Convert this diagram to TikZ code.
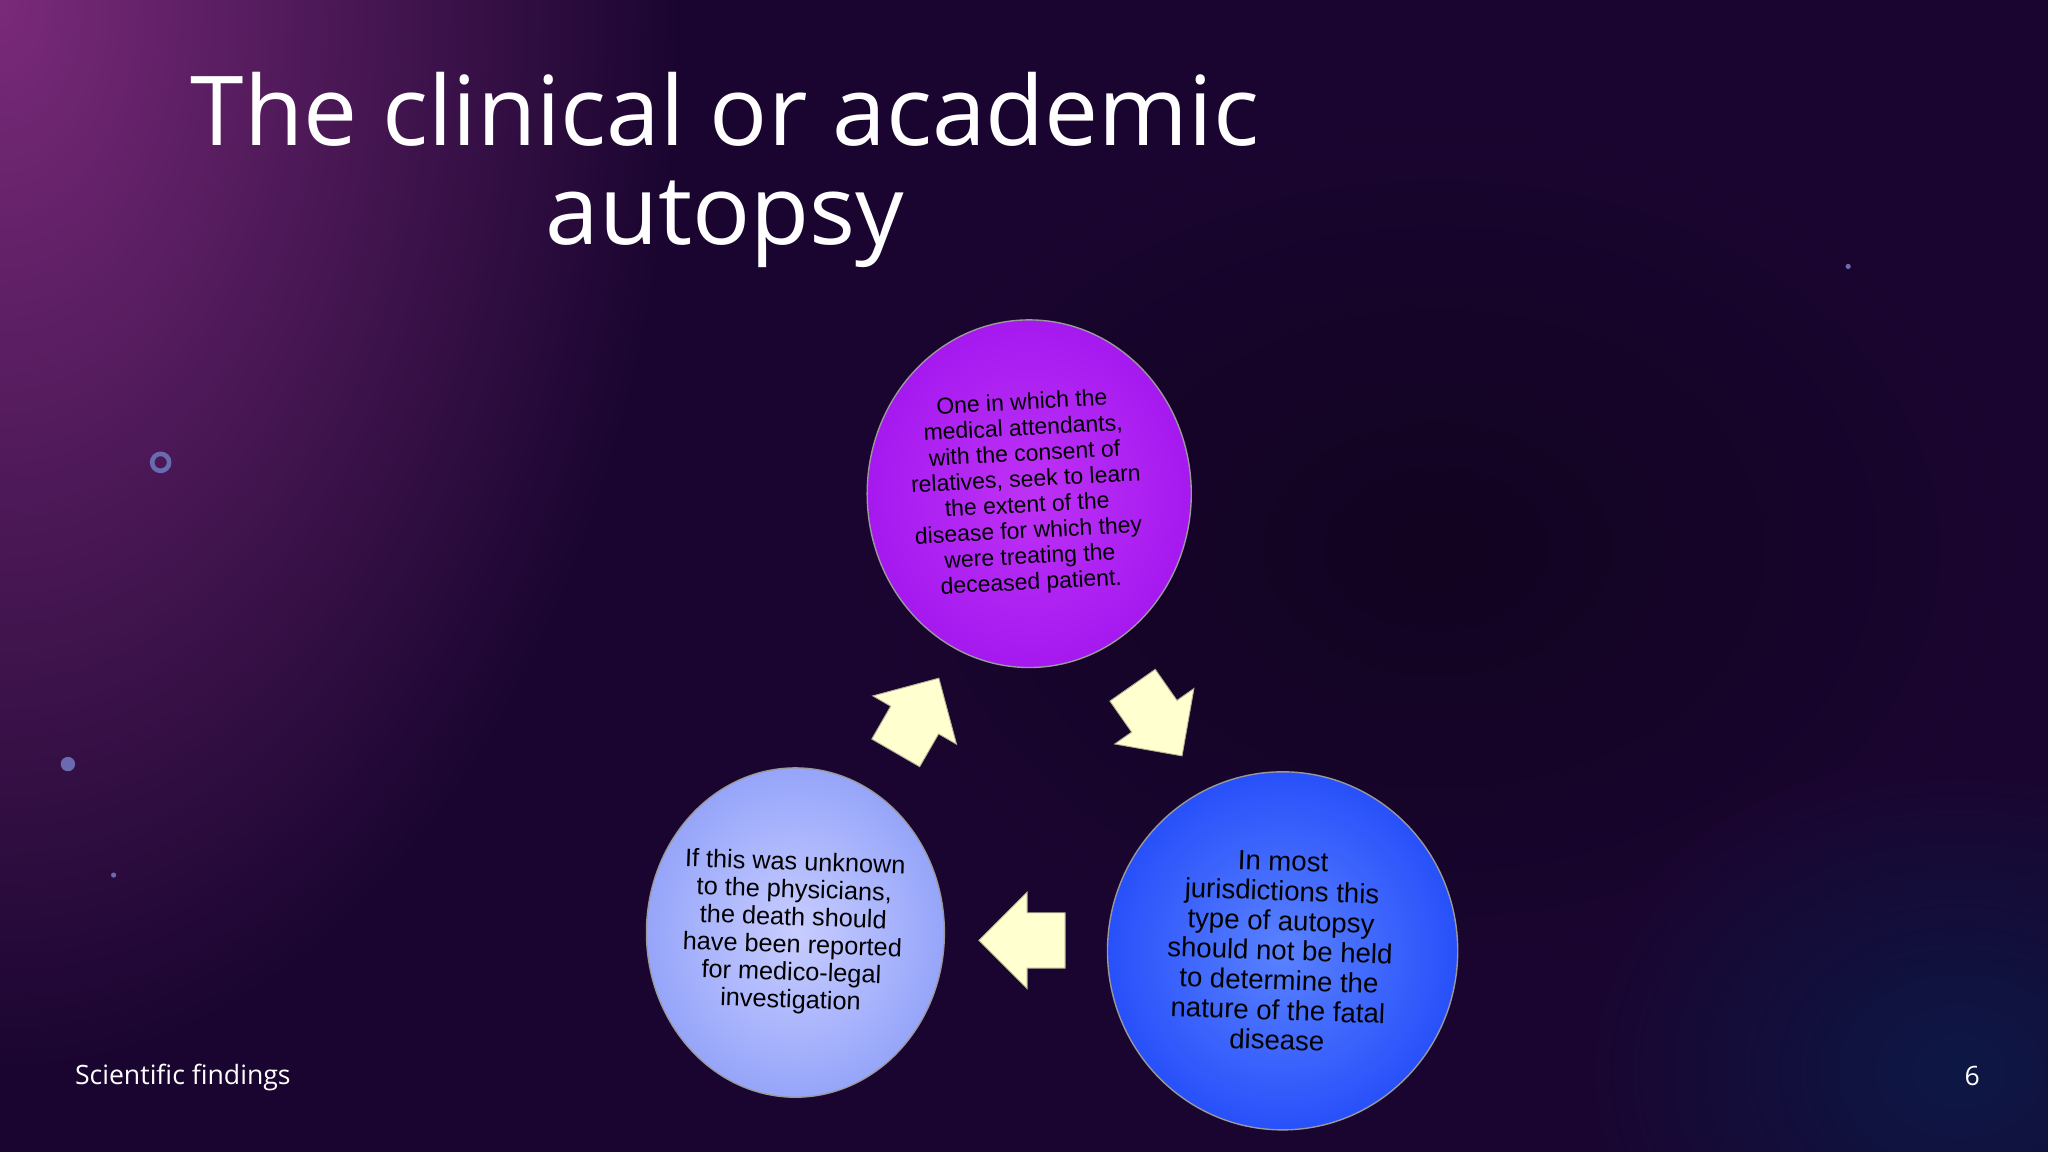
\documentclass[tikz,border=0pt]{standalone}
\usepackage{fontspec}
\setmainfont{Open Sans}
\newfontfamily\arialf{Liberation Sans}
\usetikzlibrary{shapes.arrows,shapes.geometric}
\definecolor{bgmain}{HTML}{1A0530}
\definecolor{bgmag}{HTML}{7A2A7A}
\definecolor{bgblue}{HTML}{0C1A48}
\definecolor{arrowy}{HTML}{FFFFD0}
\definecolor{dotc}{HTML}{6A6AB0}
\begin{document}
\begin{tikzpicture}[x=0.01cm,y=-0.01cm,
  bub/.style={ellipse,draw=black!40,line width=0.3pt,inner sep=0pt},
  barr/.style={single arrow,fill=arrowy,draw=arrowy!70!black,line width=0.2pt,minimum height=0.66cm,minimum width=0.74cm,single arrow head extend=0.1cm,inner sep=0.13cm},
  dot/.style={circle,fill=dotc,inner sep=0pt}]
\useasboundingbox (0,0) rectangle (1568,882);
\fill[bgmain] (0,0) rectangle (1568,882);
\shade[inner color=bgmag,outer color=bgmain] (0,0) ellipse (520 and 820);
\shade[inner color=bgmain!60!black,outer color=bgmain,opacity=0.8] (1100,420) ellipse (450 and 330);
\shade[inner color=bgblue,outer color=bgmain,opacity=0.9] (1500,820) ellipse (300 and 240);
\node[text=white,font=\fontsize{21}{21.5}\selectfont,align=center] (title) at (555,130) {The clinical or academic\\autopsy};
\node[bub,shade,inner color={rgb,255:red,190;green,50;blue,245},outer color={rgb,255:red,165;green,25;blue,240},
  minimum width=2.48cm,minimum height=2.66cm] (c1) at (788,378) {};
\node[bub,shade,inner color={rgb,255:red,90;green,130;blue,255},outer color={rgb,255:red,40;green,80;blue,250},
  minimum width=2.68cm,minimum height=2.74cm] (c2) at (982,728) {};
\node[bub,shade,inner color={rgb,255:red,200;green,205;blue,255},outer color={rgb,255:red,150;green,165;blue,250},
  minimum width=2.28cm,minimum height=2.52cm] (c3) at (609,714) {};
\node[font=\arialf\fontsize{5}{5.6}\selectfont,align=center,rotate=3] (t1) at (786,378) {One in which the\\medical attendants,\\with the consent of\\relatives, seek to learn\\the extent of the\\disease for which they\\were treating the\\deceased patient.};
\node[font=\arialf\fontsize{6}{6.5}\selectfont,align=center,rotate=-2] (t2) at (980,728) {In most\\jurisdictions this\\type of autopsy\\should not be held\\to determine the\\nature of the fatal\\disease};
\node[font=\arialf\fontsize{5.5}{6}\selectfont,align=center,rotate=-2] (t3) at (607,714) {If this was unknown\\to the physicians,\\the death should\\have been reported\\for medico-legal\\investigation};
\node[barr,rotate=60] (a1) at (697,557) {};
\node[barr,rotate=-55] (a2) at (880,543) {};
\node[barr,rotate=180] (a3) at (793,720) {};
\node[circle,draw=dotc,line width=1pt,minimum size=0.13cm,inner sep=0pt] (d1) at (123,354) {};
\node[dot,minimum size=0.11cm] (d2) at (52,585) {};
\node[dot,minimum size=0.04cm] (d3) at (87,670) {};
\node[dot,minimum size=0.04cm] (d4) at (1415,204) {};
\node[text=white,font=\fontsize{5.8}{7}\selectfont,anchor=west] (f1) at (45,825) {Scientific findings};
\node[text=white,font=\fontsize{5.8}{7}\selectfont] (f2) at (1510,824) {6};
\end{tikzpicture}
\end{document}
